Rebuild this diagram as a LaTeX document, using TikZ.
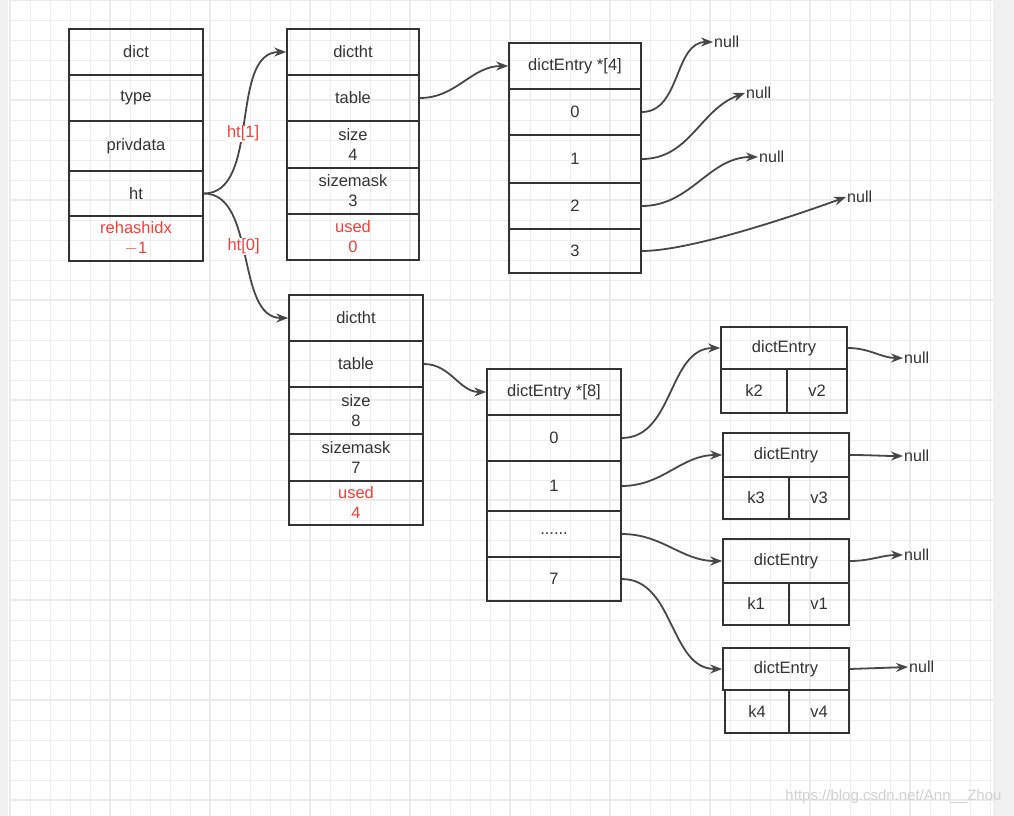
\documentclass[tikz,border=0pt]{standalone}
\usepackage{fontspec}
\setmainfont{Liberation Sans}
\usetikzlibrary{arrows.meta}
\definecolor{ink}{HTML}{333333}
\definecolor{redt}{HTML}{F0403A}
\tikzset{
  cell/.style={draw=ink,line width=1.6pt,inner sep=0pt,align=center,text=ink,font=\fontsize{16.5}{20}\selectfont},
  red/.style={text=redt},
  con/.style={draw=ink!90,line width=1.8pt,-{Stealth[length=12pt,width=9pt]}},
  nul/.style={anchor=west,text=ink,font=\fontsize{16}{18}\selectfont,inner sep=1pt},
  lab/.style={fill=white,text=redt,font=\fontsize{16.5}{18}\selectfont,inner sep=1pt}
}
\newcommand\cell[7][]{\node[cell,#1,minimum width={(#4-#2)*1pt},minimum height={(#5-#3)*1pt}] (#6) at ({(#2+#4)/2},{(#3+#5)/2}) {#7};}
\begin{document}
\begin{tikzpicture}[x=1pt,y=-1pt]
\useasboundingbox (0,0) rectangle (1014,816);
\fill[white] (0,0) rectangle (1014,816);
\foreach \x in {10,30,...,990} \draw[black!7,line width=0.9pt] (\x,0) -- (\x,816);
\foreach \y in {0,20,...,816} \draw[black!7,line width=0.9pt] (10,\y) -- (993,\y);
\foreach \x in {10,110,...,990} \draw[black!8,line width=1.6pt] (\x,0) -- (\x,816);
\foreach \y in {0,100,...,800} \draw[black!8,line width=1.6pt] (10,\y) -- (993,\y);
\fill[black!6] (993,0) rectangle (1014,816);
\fill[black!6] (0,0) rectangle (8,816);
% dict
\cell{69}{29}{203}{75}{d0}{dict}
\cell{69}{75}{203}{121}{d1}{type}
\cell{69}{121}{203}{171}{d2}{privdata}
\cell{69}{171}{203}{216}{d3}{ht}
\cell[red]{69}{216}{203}{261}{d4}{rehashidx\\$-$1}
% dictht 1
\cell{287}{29}{419}{75}{a0}{dictht}
\cell{287}{75}{419}{121}{a1}{table}
\cell{287}{121}{419}{168}{a2}{size\\4}
\cell{287}{168}{419}{214}{a3}{sizemask\\3}
\cell[red]{287}{214}{419}{260}{a4}{used\\0}
% arr4
\cell{509}{43}{641}{89}{p0}{dictEntry *[4]}
\cell{509}{89}{641}{135}{p1}{0}
\cell{509}{135}{641}{183}{p2}{1}
\cell{509}{183}{641}{229}{p3}{2}
\cell{509}{229}{641}{273}{p4}{3}
% dictht 0
\cell{289}{295}{423}{341}{b0}{dictht}
\cell{289}{341}{423}{387}{b1}{table}
\cell{289}{387}{423}{434}{b2}{size\\8}
\cell{289}{434}{423}{481}{b3}{sizemask\\7}
\cell[red]{289}{481}{423}{525}{b4}{used\\4}
% arr8
\cell{487}{369}{621}{415}{q0}{dictEntry *[8]}
\cell{487}{415}{621}{461}{q1}{0}
\cell{487}{461}{621}{511}{q2}{1}
\cell{487}{511}{621}{557}{q3}{......}
\cell{487}{557}{621}{601}{q4}{7}
% entries
\cell{721}{327}{847}{369}{e2}{dictEntry}
\cell{721}{369}{787}{413}{e2k}{k2}
\cell{787}{369}{847}{413}{e2v}{v2}
\cell{723}{433}{849}{477}{e3}{dictEntry}
\cell{723}{477}{789}{519}{e3k}{k3}
\cell{789}{477}{849}{519}{e3v}{v3}
\cell{723}{539}{849}{583}{e1}{dictEntry}
\cell{723}{583}{789}{625}{e1k}{k1}
\cell{789}{583}{849}{625}{e1v}{v1}
\cell{723}{648}{849}{690}{e4}{dictEntry}
\cell{725}{690}{789}{733}{e4k}{k4}
\cell{789}{690}{849}{733}{e4v}{v4}
% nulls
\node[nul] (n1) at (713,42) {null};
\node[nul] (n2) at (745,93) {null};
\node[nul] (n3) at (758,157) {null};
\node[nul] (n4) at (846,197) {null};
\node[nul] (n5) at (903,358) {null};
\node[nul] (n6) at (903,456) {null};
\node[nul] (n7) at (903,555) {null};
\node[nul] (n8) at (908,667) {null};
% connectors
\draw[con] (d3.east) to[out=0,in=180,looseness=0.9] node[lab,pos=0.45]{ht[1]} (a0.west);
\draw[con] (d3.east) to[out=0,in=180,looseness=0.9] node[lab,pos=0.45]{ht[0]} (b0.west);
\draw[con] (a1.east) to[out=0,in=180] (p0.west);
\draw[con] (p1.east) to[out=0,in=180] (n1.west);
\draw[con] (p2.east) to[out=0,in=200] (n2.west);
\draw[con] (p3.east) to[out=0,in=180] (n3.west);
\draw[con] (p4.east) to[out=0,in=200,looseness=0.6] (n4.west);
\draw[con] (b1.east) to[out=0,in=180] (q0.west);
\draw[con] (q1.east) to[out=0,in=180] (e2.west);
\draw[con] (q2.east) to[out=0,in=180] (e3.west);
\draw[con] (q3.east) to[out=0,in=180] (e1.west);
\draw[con] (q4.east) to[out=0,in=180] (e4.west);
\draw[con] (e2.east) to[out=0,in=180] (n5.west);
\draw[con] (e3.east) to[out=0,in=180] (n6.west);
\draw[con] (e1.east) to[out=0,in=180] (n7.west);
\draw[con] (e4.east) -- (n8.west);
\node[text=black!18,font=\fontsize{15}{16}\selectfont,anchor=east] (wm) at (1005,797) {https://blog.csdn.net/Ann\_\_Zhou};
\end{tikzpicture}
\end{document}
